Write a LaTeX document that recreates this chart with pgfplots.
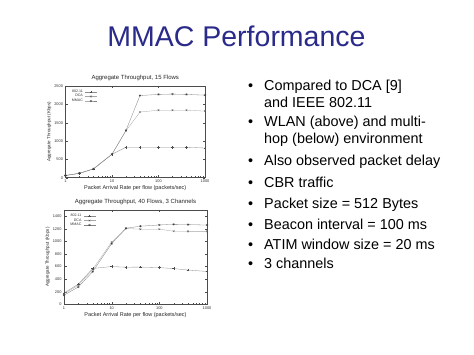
\documentclass[border=0pt]{standalone}
\usepackage{fontspec}
\setmainfont{Liberation Sans}
\usepackage{pgfplots}
\pgfplotsset{compat=1.18}
\definecolor{titleblue}{RGB}{42,42,138}
\pgfplotsset{
  mmacax/.style={
    scale only axis,
    xmin=1, xmax=1000,
    xtick={1,10,100,1000},
    xticklabels={1,10,100,1000},
    ymin=0,
    axis line style={black!70, line width=0.4pt},
    tick style={black!70, line width=0.3pt},
    major tick length=2.5pt,
    minor tick length=1.4pt,
    tick align=inside,
    /pgf/number format/assume math mode=true,
    /pgf/number format/1000 sep={},
    scaled y ticks=false,
    ticklabel style={font=\fontsize{3.9}{4}\selectfont, text=black!80},
    xticklabel style={yshift=1pt},
    yticklabel style={xshift=1pt},
    title style={font=\fontsize{6}{7}\selectfont, text=black!85, yshift=-4.5pt},
    label style={font=\fontsize{5.5}{6}\selectfont, text=black!85},
    xlabel={Packet Arrival Rate per flow (packets/sec)},
    ylabel={Aggregate Throughput (Kbps)},
    xlabel style={yshift=4pt},
    ylabel style={yshift=-4pt, font=\fontsize{4.5}{5}\selectfont},
    legend plot pos=right,
    legend cell align=right,
    legend style={at={(0.02,0.985)}, anchor=north west, draw=none, fill=none,
      font=\fontsize{3.6}{3.8}\selectfont, text=black!80,
      nodes={inner sep=0.4pt}, row sep=-0.3pt, column sep=1.5pt},
    legend image code/.code={\draw[mark repeat=2,mark phase=2] plot coordinates {(0pt,0pt) (6pt,0pt) (12pt,0pt)};},
  },
  sA/.style={black!45, line width=0.3pt, mark=+, mark size=1.3pt, mark options={black!70, line width=0.3pt}},
  sB/.style={black!35, line width=0.3pt, mark=x, mark size=1.2pt, mark options={black!65, line width=0.3pt}},
  sC/.style={black!50, line width=0.3pt, mark=asterisk, mark size=1.2pt, mark options={black!75, line width=0.3pt}},
}
\begin{document}
\begin{tikzpicture}
\useasboundingbox[fill=white] (0pt,0pt) rectangle (474pt,355pt);
\node[anchor=base, text=titleblue, font=\fontsize{28.5}{30}\selectfont] at (236.5pt,308pt) {MMAC Performance};

\begin{axis}[xmode=log, mmacax, at={(65.5pt,177.3pt)}, anchor=south west, width=139.5pt, height=91.7pt,
  ymax=2500, ytick={0,500,1000,1500,2000,2500},
  title={Aggregate Throughput, 15 Flows}]
\addplot[sA] coordinates {(1,60)(2,120)(4,240)(10,640)(20,830)(40,830)(100,830)(200,830)(400,830)(1000,810)};
\addlegendentry{802.11}
\addplot[sB] coordinates {(1,60)(2,120)(4,240)(10,640)(20,1280)(40,1790)(100,1840)(200,1840)(400,1840)(1000,1815)};
\addlegendentry{DCA}
\addplot[sC] coordinates {(1,60)(2,120)(4,240)(10,640)(20,1290)(40,2240)(100,2270)(200,2280)(400,2270)(1000,2250)};
\addlegendentry{MMAC}
\end{axis}

\begin{axis}[xmode=log, mmacax, at={(64pt,50.7pt)}, anchor=south west, width=143pt, height=94.3pt,
  ymax=1500, ytick={0,200,400,600,800,1000,1200,1400},
  title={Aggregate Throughput, 40 Flows, 3 Channels}]
\addplot[sA] coordinates {(1,180)(2,320)(4,570)(10,600)(20,590)(40,592)(100,584)(200,568)(400,545)(1000,522)};
\addlegendentry{802.11}
\addplot[sB] coordinates {(1,165)(2,305)(4,555)(10,990)(20,1205)(40,1195)(100,1195)(200,1163)(400,1160)(1000,1160)};
\addlegendentry{DCA}
\addplot[sC] coordinates {(1,145)(2,275)(4,520)(10,965)(20,1210)(40,1242)(100,1262)(200,1272)(400,1268)(1000,1260)};
\addlegendentry{MMAC}
\end{axis}

\begin{scope}[every node/.style={anchor=base west, inner sep=0pt, font=\fontsize{14.4}{17}\selectfont}]
\node at (248pt,355pt-91pt) {•};
\node at (264pt,355pt-91pt) {Compared to DCA [9]};
\node at (264pt,355pt-107.5pt) {and IEEE 802.11};
\node at (248pt,355pt-127pt) {•};
\node at (264pt,355pt-127pt) {WLAN (above) and multi-};
\node at (264pt,355pt-143.5pt) {hop (below) environment};
\node at (248pt,355pt-166pt) {•};
\node at (264pt,355pt-166pt) {Also observed packet delay};
\node at (248pt,355pt-188pt) {•};
\node at (264pt,355pt-188pt) {CBR traffic};
\node at (248pt,355pt-209pt) {•};
\node at (264pt,355pt-209pt) {Packet size = 512 Bytes};
\node at (248pt,355pt-229.5pt) {•};
\node at (264pt,355pt-229.5pt) {Beacon interval = 100 ms};
\node at (248pt,355pt-249.5pt) {•};
\node at (264pt,355pt-249.5pt) {ATIM window size = 20 ms};
\node at (248pt,355pt-269pt) {•};
\node at (264pt,355pt-269pt) {3 channels};
\end{scope}
\end{tikzpicture}
\end{document}
